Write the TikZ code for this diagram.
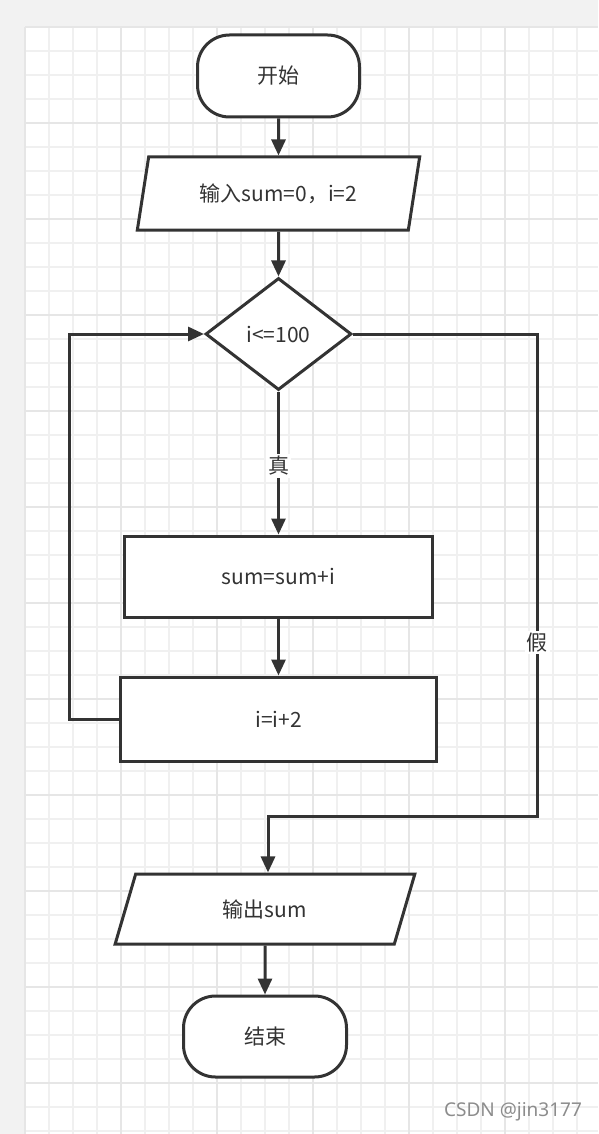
\documentclass[tikz,border=0pt]{standalone}
\usepackage{fontspec}
\newfontfamily\cjk{Noto Sans CJK SC}
\usetikzlibrary{shapes.geometric,arrows.meta}
\definecolor{ink}{HTML}{333333}
\definecolor{paper}{HTML}{F2F2F2}
\definecolor{gridminor}{HTML}{F0F0F0}
\definecolor{gridmajor}{HTML}{E6E6E6}
\definecolor{mark}{HTML}{8C8C8C}
\begin{document}
\begin{tikzpicture}[x=1pt,y=-1pt,
    txt/.style={font=\cjk\fontsize{21}{24}\selectfont, text=ink},
    terminal/.style={txt, draw=ink, line width=3pt, fill=white, rounded corners=32pt, minimum width=162pt, minimum height=82pt},
    io/.style={txt, draw=ink, line width=3pt, fill=white, trapezium, trapezium left angle=71, trapezium right angle=109, trapezium stretches=true, inner sep=0pt},
    process/.style={txt, draw=ink, line width=3pt, fill=white, minimum height=82pt},
    decision/.style={txt, draw=ink, line width=3pt, fill=white, diamond, aspect=1.3, inner sep=0pt, minimum width=146pt, minimum height=112pt},
    arr/.style={draw=ink, line width=3pt, -{Triangle[length=16pt,width=14pt]}},
    lbl/.style={txt, fill=white, inner sep=2pt}]
    \useasboundingbox (0,0) rectangle (598,1134);

    % Background
    \fill[paper] (0,0) rectangle (598,1134);
    \fill[white] (25,27) rectangle (598,1134);
    \foreach \x in {25,49,...,598} \draw[gridminor, line width=1.5pt] (\x,27) -- (\x,1134);
    \foreach \y in {27,51,...,1134} \draw[gridminor, line width=1.5pt] (25,\y) -- (598,\y);
    \foreach \x in {25,121,...,598} \draw[gridmajor, line width=1.5pt] (\x,27) -- (\x,1134);
    \foreach \y in {27,123,...,1134} \draw[gridmajor, line width=1.5pt] (25,\y) -- (598,\y);

    % Nodes
    \node[terminal] (start) at (278.5,76) {开始};
    \node[io, minimum width=283pt, minimum height=73pt] (in) at (278.5,193.5) {输入sum=0，i=2};
    \node[decision] (cond) at (278.5,334) {i<=100};
    \node[process, minimum width=308pt, minimum height=81pt] (sum) at (278.5,576.5) {sum=sum+i};
    \node[process, minimum width=316pt, minimum height=84pt] (inc) at (278.5,719) {i=i+2};
    \node[io, minimum width=302pt, minimum height=70pt] (out) at (265,909) {输出sum};
    \node[terminal, minimum width=163pt, minimum height=81pt] (end) at (265,1036.5) {结束};
    \coordinate (L) at (69,719);
    \coordinate (R) at (537,816);
    \coordinate (B) at (268,816);
    \node[font=\fontspec{Noto Sans}\fontsize{19}{22}\selectfont, text=mark] (wm) at (513,1112) {CSDN @jin3177};

    % Arrows
    \draw[arr] (start) -- (in);
    \draw[arr] (in) -- (cond);
    \draw[arr] (cond) -- node[lbl, pos=0.52] {真} (sum);
    \draw[arr] (sum) -- (inc);
    \draw[arr] (inc.west) -- (L) |- (cond.west);
    \draw[arr] (cond.east) -| node[lbl, pos=0.82] {假} (R) -- (B) -- (B |- out.north);
    \draw[arr] (out) -- (end);

\end{tikzpicture}
\end{document}
